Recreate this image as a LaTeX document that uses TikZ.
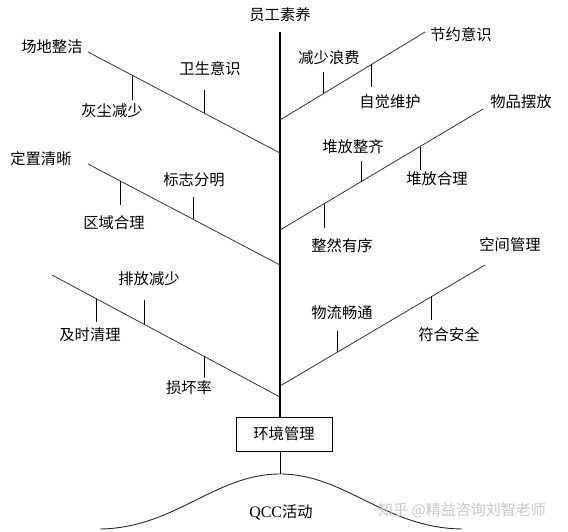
\documentclass[tikz,border=0pt]{standalone}
\usepackage{fontspec}
\setmainfont{Liberation Serif}
\newfontfamily\cjk{Noto Sans CJK SC}
\usetikzlibrary{calc}
\tikzset{
  lbl/.style={font=\cjk\fontsize{15.3}{15.3}\selectfont, inner sep=0pt},
  branch/.style={draw=black!80, line width=0.8pt},
  tick/.style={draw=black, line width=0.9pt},
  trunk/.style={draw=black, line width=1.4pt},
}
\begin{document}
\begin{tikzpicture}[x=1pt,y=-1pt]
\useasboundingbox (0,0) rectangle (568,531);
% trunk
\coordinate (top) at (280,32);
\node[draw=black, line width=0.8pt, minimum width=96pt, minimum height=34pt, inner sep=0pt, font=\cjk\fontsize{15.3}{15.3}\selectfont] (box) at (284,434) {环境管理\hspace{16pt}};
\coordinate (trunkbot) at (280,417);
\coordinate (peak) at (280,474);
\draw[trunk] (top) -- (trunkbot);
\draw[line width=1pt] (box.south -| peak) -- (peak);
% bell curve
\coordinate (bl) at (100,529);
\coordinate (br) at (462,529);
\draw[draw=black!85, line width=0.9pt] (bl) .. controls (175,528) and (215,474) .. (peak) .. controls (345,474) and (385,528) .. (br);
\node[inner sep=0pt] (qcc) at (281,512) {\fontsize{16}{16}\selectfont QCC{\cjk\fontsize{15.3}{15.3}\selectfont 活动}};
\node[inner sep=0pt, text=black!22, font=\cjk\fontsize{15}{15}\selectfont] (wm) at (462,510) {知乎 @精益咨询刘智老师};
% title
\node[lbl] (t0) at (280,15) {员工素养};
% left branch 1
\coordinate (a1) at (88,52); \coordinate (b1) at (280,153);
\draw[branch] (a1) -- (b1);
\path (a1) -- (b1) coordinate[pos=0.234] (p11) coordinate[pos=0.604] (p12);
\draw[tick] (p11) -- ++(0,24);
\draw[tick] (p12) -- ++(0,-23);
\node[lbl] (l1) at (52,47) {场地整洁};
\node[lbl] (l11) at (112,111) {灰尘减少};
\node[lbl] (l12) at (210,69) {卫生意识};
% left branch 2
\coordinate (a2) at (88,164); \coordinate (b2) at (280,265);
\draw[branch] (a2) -- (b2);
\path (a2) -- (b2) coordinate[pos=0.167] (p21) coordinate[pos=0.547] (p22);
\draw[tick] (p21) -- ++(0,24);
\draw[tick] (p22) -- ++(0,-22);
\node[lbl] (l2) at (41,159) {定置清晰};
\node[lbl] (l21) at (114,223) {区域合理};
\node[lbl] (l22) at (194,180) {标志分明};
% left branch 3
\coordinate (a3) at (52,275); \coordinate (b3) at (280,397);
\draw[branch] (a3) -- (b3);
\path (a3) -- (b3) coordinate[pos=0.197] (p31) coordinate[pos=0.404] (p32) coordinate[pos=0.667] (p33);
\draw[tick] (p31) -- ++(0,23);
\draw[tick] (p32) -- ++(0,-24);
\draw[tick] (p33) -- ++(0,22);
\node[lbl] (l31) at (90,335) {及时清理};
\node[lbl] (l32) at (149,279) {排放减少};
\node[lbl] (l33) at (189,388) {损坏率};
% right branch 1
\coordinate (c1) at (280,120); \coordinate (d1) at (425,32);
\draw[branch] (c1) -- (d1);
\path (c1) -- (d1) coordinate[pos=0.303] (q11) coordinate[pos=0.634] (q12);
\draw[tick] (q11) -- ++(0,-21);
\draw[tick] (q12) -- ++(0,23);
\node[lbl] (r1) at (461,35) {节约意识};
\node[lbl] (r11) at (329,58) {减少浪费};
\node[lbl] (r12) at (390,102) {自觉维护};
% right branch 2
\coordinate (c2) at (280,230); \coordinate (d2) at (483,109);
\draw[branch] (c2) -- (d2);
\path (c2) -- (d2) coordinate[pos=0.217] (q21) coordinate[pos=0.399] (q22) coordinate[pos=0.690] (q23);
\draw[tick] (q21) -- ++(0,24);
\draw[tick] (q22) -- ++(0,-21);
\draw[tick] (q23) -- ++(0,23);
\node[lbl] (r2) at (521,102) {物品摆放};
\node[lbl] (r21) at (342,246) {整然有序};
\node[lbl] (r22) at (353,147) {堆放整齐};
\node[lbl] (r23) at (437,179) {堆放合理};
% right branch 3
\coordinate (c3) at (280,386); \coordinate (d3) at (485,265);
\draw[branch] (c3) -- (d3);
\path (c3) -- (d3) coordinate[pos=0.278] (q31) coordinate[pos=0.741] (q32);
\draw[tick] (q31) -- ++(0,-21);
\draw[tick] (q32) -- ++(0,24);
\node[lbl] (r3) at (510,245) {空间管理};
\node[lbl] (r31) at (342,313) {物流畅通};
\node[lbl] (r32) at (449,335) {符合安全};
\end{tikzpicture}
\end{document}
